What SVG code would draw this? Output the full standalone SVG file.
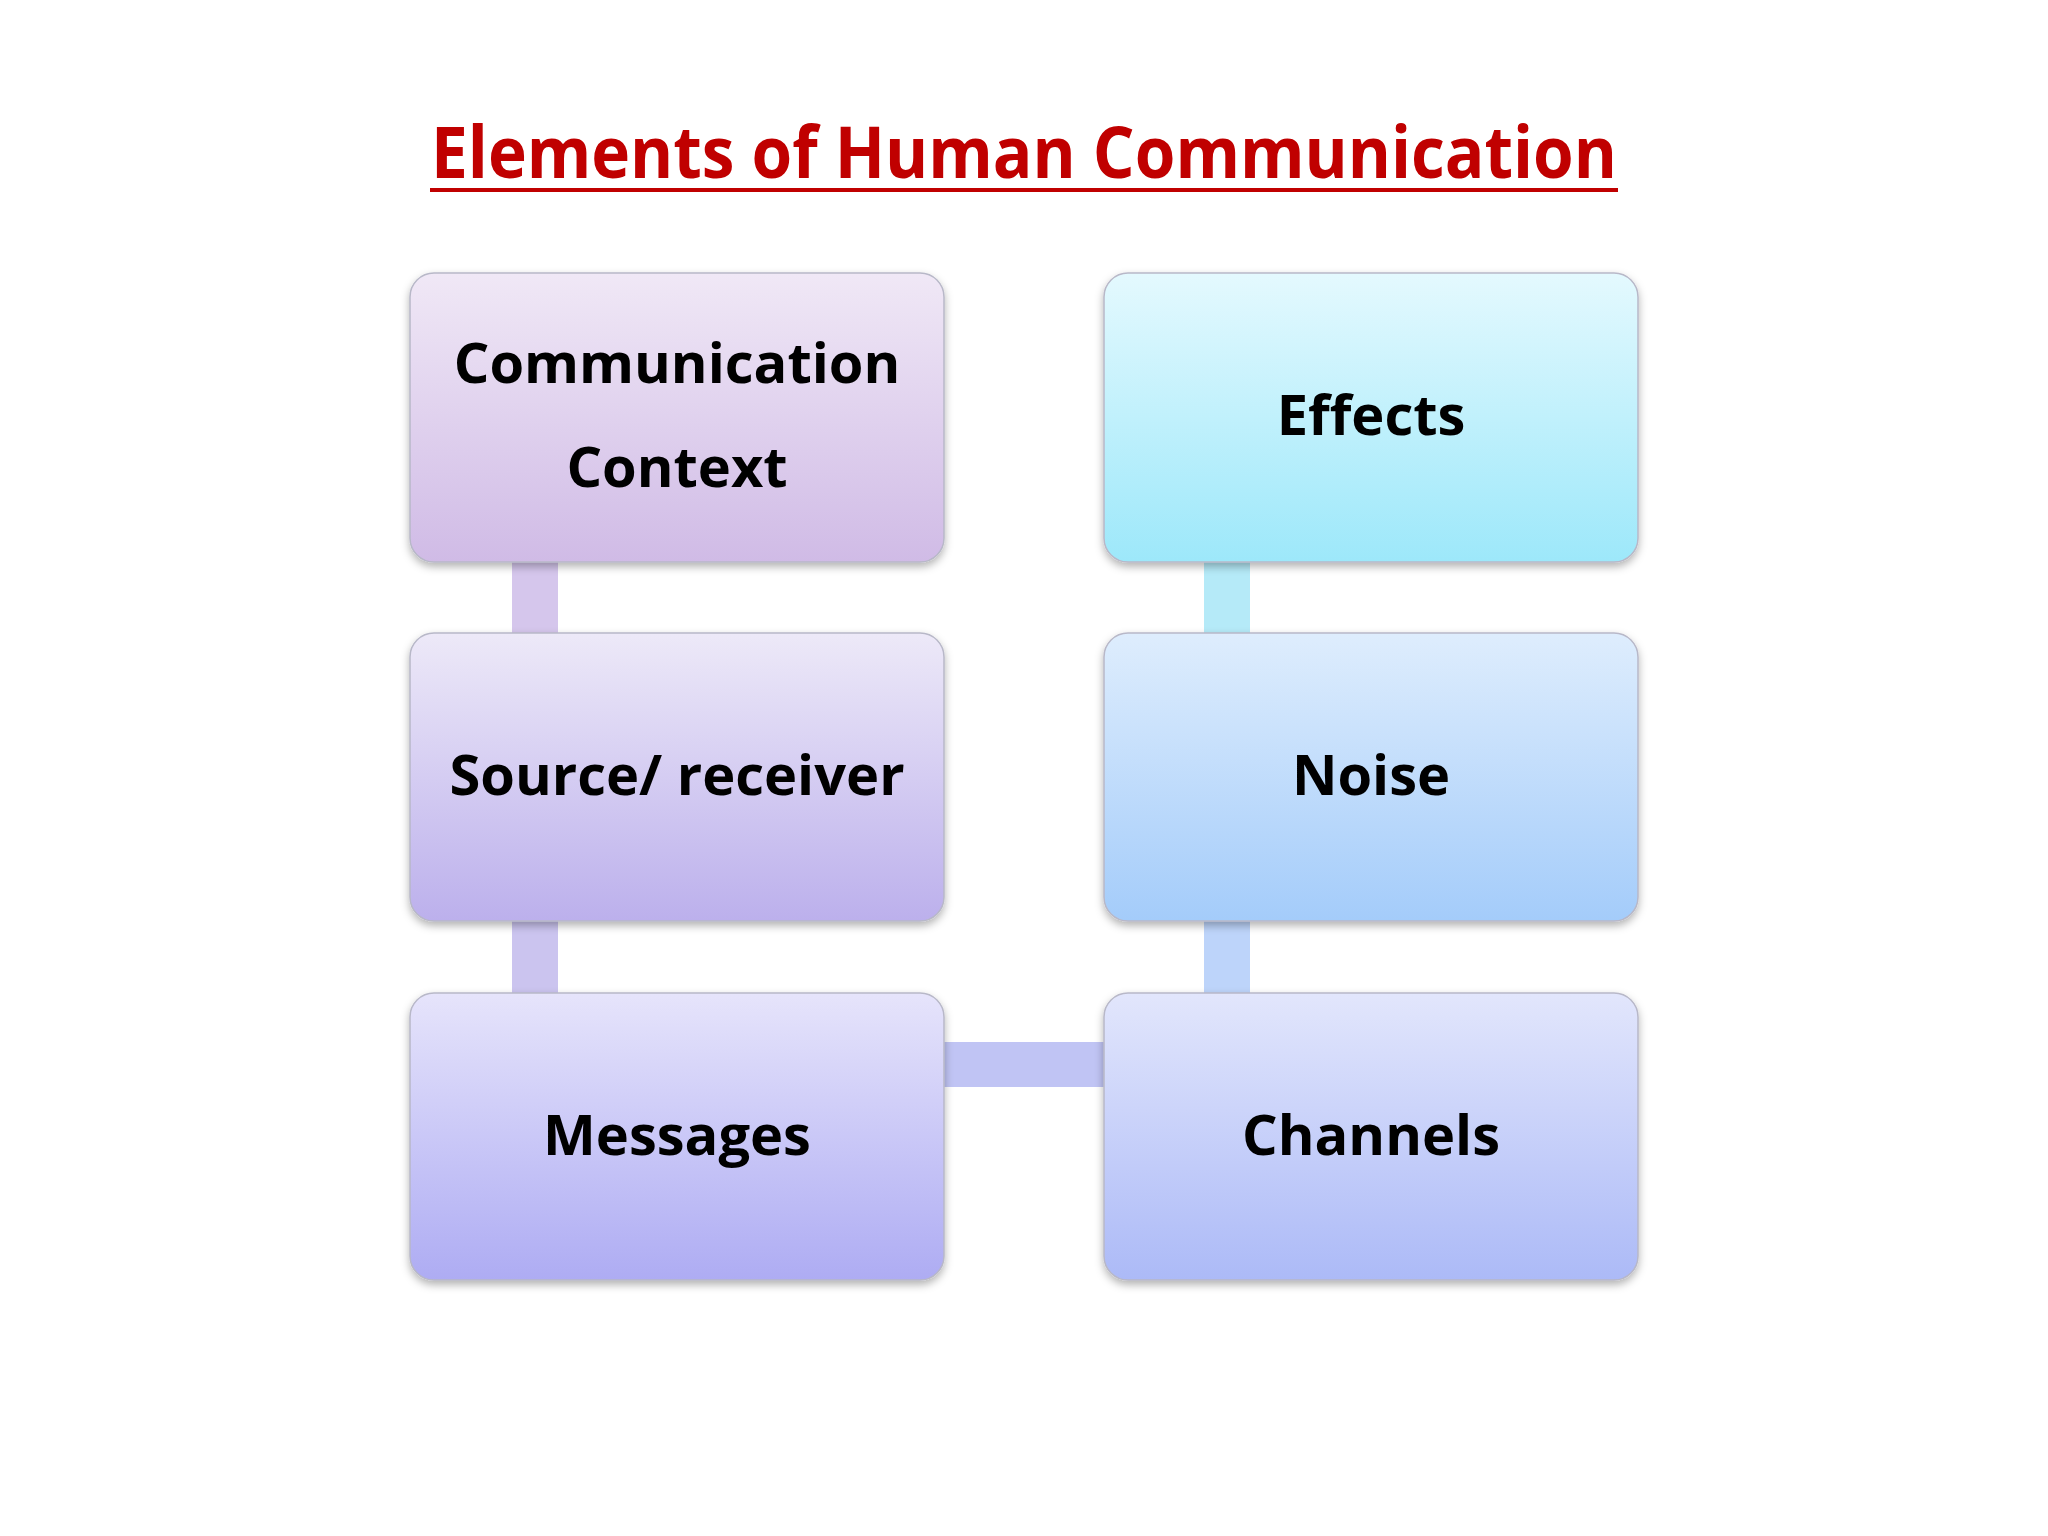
<svg xmlns="http://www.w3.org/2000/svg" width="2048" height="1536" viewBox="0 0 2048 1536">
<defs>
<linearGradient id="g1" x1="0" y1="0" x2="0" y2="1"><stop offset="0" stop-color="#f0e8f6"/><stop offset="1" stop-color="#d0bbe6"/></linearGradient>
<linearGradient id="g2" x1="0" y1="0" x2="0" y2="1"><stop offset="0" stop-color="#ede9f8"/><stop offset="1" stop-color="#bcb0ec"/></linearGradient>
<linearGradient id="g3" x1="0" y1="0" x2="0" y2="1"><stop offset="0" stop-color="#e6e4fb"/><stop offset="1" stop-color="#aeacf3"/></linearGradient>
<linearGradient id="g4" x1="0" y1="0" x2="0" y2="1"><stop offset="0" stop-color="#e4f9fe"/><stop offset="1" stop-color="#9de8fa"/></linearGradient>
<linearGradient id="g5" x1="0" y1="0" x2="0" y2="1"><stop offset="0" stop-color="#deedfd"/><stop offset="1" stop-color="#a4ccfa"/></linearGradient>
<linearGradient id="g6" x1="0" y1="0" x2="0" y2="1"><stop offset="0" stop-color="#e2e6fc"/><stop offset="1" stop-color="#acbaf7"/></linearGradient>
<filter id="sh" x="-10%" y="-10%" width="120%" height="130%"><feDropShadow dx="0" dy="4" stdDeviation="4" flood-color="#000" flood-opacity="0.3"/></filter>
</defs>
<style>
.box{stroke:#b8b8c8;stroke-width:1.5;filter:url(#sh)}
.t{font-family:"Open Sans","Liberation Sans",sans-serif;font-weight:bold;font-size:56px;fill:#000;text-anchor:middle}
</style>
<rect width="2048" height="1536" fill="#fff"/>
<text x="1024" y="178" font-family="'Open Sans','Liberation Sans',sans-serif" font-weight="bold" font-size="72" fill="#c00000" text-anchor="middle" textLength="1186" lengthAdjust="spacingAndGlyphs">Elements of Human Communication</text>
<rect x="430" y="188" width="1188" height="4" fill="#c00000"/>
<g id="connectors">
<rect x="512" y="562" width="46" height="72" fill="#d5c6ec"/>
<rect x="512" y="921" width="46" height="73" fill="#cbc4ef"/>
<rect x="1204" y="562" width="46" height="72" fill="#b5eaf8"/>
<rect x="1204" y="921" width="46" height="73" fill="#bdd4fa"/>
<rect x="944" y="1042" width="160" height="45" fill="#c0c4f4"/>
</g>
<g id="context"><rect class="box" x="410" y="273" width="534" height="289" rx="24" fill="url(#g1)"/><text class="t" x="677" y="383">Communication</text><text class="t" x="677" y="487">Context</text></g>
<g id="source"><rect class="box" x="410" y="633" width="534" height="288" rx="24" fill="url(#g2)"/><text class="t" x="677" y="795">Source/ receiver</text></g>
<g id="messages"><rect class="box" x="410" y="993" width="534" height="287" rx="24" fill="url(#g3)"/><text class="t" x="677" y="1155">Messages</text></g>
<g id="effects"><rect class="box" x="1104" y="273" width="534" height="289" rx="24" fill="url(#g4)"/><text class="t" x="1371" y="435">Effects</text></g>
<g id="noise"><rect class="box" x="1104" y="633" width="534" height="288" rx="24" fill="url(#g5)"/><text class="t" x="1371" y="795">Noise</text></g>
<g id="channels"><rect class="box" x="1104" y="993" width="534" height="287" rx="24" fill="url(#g6)"/><text class="t" x="1371" y="1155">Channels</text></g>
</svg>
